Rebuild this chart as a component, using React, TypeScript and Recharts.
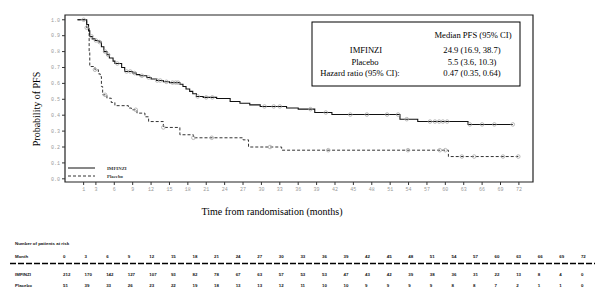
import React from 'react';
import {
  ComposedChart,
  Line,
  Scatter,
  XAxis,
  YAxis,
  ReferenceArea
} from 'recharts';

// Kaplan-Meier steps (month, probability)
const imfinziT = [0, 1.5, 1.8, 2.0, 2.4, 2.85, 3.5, 3.9, 4.3, 4.8, 5.2, 5.8, 6.1, 7.2, 7.7, 9.0, 9.6, 10.2, 11.3, 12.0, 12.9, 14.0, 15.0, 16.7, 17.2, 17.7, 18.3, 18.8, 19.4, 20.5, 22.7, 24.9, 26.5, 28.1, 29.8, 34.1, 36.0, 38.7, 41.5, 52.6, 55.5, 63.7, 71.0];
const imfinziS = [1.0, 0.97, 0.93, 0.895, 0.88, 0.87, 0.86, 0.83, 0.80, 0.78, 0.76, 0.74, 0.725, 0.70, 0.675, 0.665, 0.655, 0.648, 0.637, 0.628, 0.618, 0.61, 0.605, 0.595, 0.58, 0.565, 0.55, 0.535, 0.518, 0.512, 0.505, 0.486, 0.475, 0.465, 0.455, 0.445, 0.438, 0.417, 0.404, 0.375, 0.36, 0.342, 0.342];

const placeboT = [0, 1.5, 1.9, 2.0, 2.85, 3.4, 3.7, 3.9, 4.1, 4.8, 5.5, 6.1, 8.3, 8.8, 9.7, 11.0, 11.6, 14.0, 16.7, 18.9, 27.0, 27.9, 33.3, 60.5, 71.9];
const placeboS = [1.0, 0.95, 0.80, 0.706, 0.686, 0.66, 0.643, 0.58, 0.528, 0.507, 0.48, 0.46, 0.445, 0.434, 0.413, 0.39, 0.36, 0.323, 0.277, 0.258, 0.245, 0.20, 0.18, 0.14, 0.14];

// censoring marks (month)
const imfinziCensT = [1.0, 2.3, 3.0, 3.6, 4.5, 5.0, 6.5, 8.0, 8.6, 9.3, 10.5, 11.6, 13.0, 13.5, 14.5, 15.5, 16.0, 16.4, 19.6, 21.0, 22.0, 30.5, 32.0, 33.0, 38.0, 40.5, 44.5, 47.2, 50.5, 52.3, 53.7, 57.5, 58.3, 59.0, 59.6, 60.3, 64.0, 66.0, 68.0, 71.0];
const placeboCensT = [1.5, 2.85, 4.5, 9.5, 14.0, 18.9, 21.9, 31.4, 40.9, 53.9, 59.1, 60.0, 62.7, 64.7, 69.4, 71.9];

const xTicks = [1, 3, 6, 9, 12, 15, 18, 21, 24, 27, 30, 33, 36, 39, 42, 45, 48, 51, 54, 57, 60, 63, 66, 69, 72];
const yTicks = [0, 0.1, 0.2, 0.3, 0.4, 0.5, 0.6, 0.7, 0.8, 0.9, 1.0];

const riskMonths = [0, 3, 6, 9, 12, 15, 18, 21, 24, 27, 30, 33, 36, 39, 42, 45, 48, 51, 54, 57, 60, 63, 66, 69, 72];
const riskImfinzi = [212, 170, 142, 127, 107, 93, 82, 78, 67, 63, 57, 53, 53, 47, 43, 42, 39, 38, 36, 31, 22, 13, 8, 4, 0];
const riskPlacebo = [51, 39, 33, 26, 23, 22, 19, 18, 13, 13, 12, 11, 10, 10, 9, 9, 9, 9, 8, 8, 7, 2, 1, 1, 0];

const X_MIN = -2.04;
const X_MAX = 74.3;
const Y_MIN = -0.02;
const Y_MAX = 1.03;

const toSteps = (ts: number[], ss: number[]) => ts.map((t, i) => ({ t, s: ss[i] }));

// survival at time t on a step curve
const survAt = (ts: number[], ss: number[], t: number) => {
  let v = ss[0];
  for (let i = 0; i < ts.length; i++) {
    if (ts[i] <= t) v = ss[i];
  }
  return v;
};

const imfinziData = toSteps(imfinziT, imfinziS);
const placeboData = toSteps(placeboT, placeboS);
const imfinziCens = imfinziCensT.map((t) => ({ t, s: survAt(imfinziT, imfinziS, t) }));
const placeboCens = placeboCensT.map((t) => ({ t, s: survAt(placeboT, placeboS, t) }));

const CensorMark = (props: any) => (
  <circle cx={props.cx} cy={props.cy} r={1.8} fill="none" stroke="#aaa" strokeWidth={0.8} />
);

const tickStyle = { fontSize: 5, fill: '#999', fontFamily: 'Liberation Mono' };
const serif = 'Liberation Serif';

const App: React.FC = () => {
  const colX = (i: number) => 63 + i * 21.58;

  return (
    <div style={{ position: 'absolute', left: 0, top: 0, width: 595, height: 294, background: '#fff' }}>
      <ComposedChart
        width={595}
        height={294}
        margin={{ top: 15, right: 62, left: 35, bottom: 92 }}
      >
        <XAxis
          dataKey="t"
          type="number"
          domain={[X_MIN, X_MAX]}
          ticks={xTicks}
          interval={0}
          allowDataOverflow
          height={20}
          tickSize={3}
          tick={tickStyle}
          stroke="#333"
          axisLine={false}
        />
        <YAxis
          dataKey="s"
          type="number"
          domain={[Y_MIN, Y_MAX]}
          ticks={yTicks}
          interval={0}
          allowDataOverflow
          width={30}
          tickSize={3}
          tick={tickStyle}
          tickFormatter={(v: number) => v.toFixed(1)}
          stroke="#333"
          axisLine={false}
        />
        <ReferenceArea x1={X_MIN} x2={X_MAX} y1={Y_MIN} y2={Y_MAX} fill="none" stroke="#222" strokeWidth={1.2} />
        <Line
          data={placeboData}
          dataKey="s"
          type="stepAfter"
          stroke="#333"
          strokeWidth={1}
          strokeDasharray="3 2"
          dot={false}
          isAnimationActive={false}
        />
        <Line
          data={imfinziData}
          dataKey="s"
          type="stepAfter"
          stroke="#111"
          strokeWidth={1.1}
          dot={false}
          isAnimationActive={false}
        />
        <Scatter data={imfinziCens} dataKey="s" shape={<CensorMark />} isAnimationActive={false} />
        <Scatter data={placeboCens} dataKey="s" shape={<CensorMark />} isAnimationActive={false} />
      </ComposedChart>

      <svg width={595} height={294} style={{ position: 'absolute', left: 0, top: 0, pointerEvents: 'none' }}>
        {/* axis titles */}
        <text x={272} y={215} textAnchor="middle" fontFamily={serif} fontSize={10} fill="#000">
          Time from randomisation (months)
        </text>
        <text
          x={40}
          y={109}
          textAnchor="middle"
          fontFamily={serif}
          fontSize={10}
          fill="#000"
          transform="rotate(-90 40 109)"
        >
          Probability of PFS
        </text>

        {/* legend */}
        <line x1={68} y1={168} x2={95} y2={168} stroke="#111" strokeWidth={1} />
        <line x1={68} y1={176} x2={95} y2={176} stroke="#333" strokeWidth={1} strokeDasharray="3 2" />
        <text x={107} y={169.5} fontFamily={serif} fontSize={4.8} fontWeight="bold" fill="#333">IMFINZI</text>
        <text x={107} y={177.5} fontFamily={serif} fontSize={4.8} fontWeight="bold" fill="#333">Placebo</text>

        {/* median PFS box */}
        <rect x={312} y={22} width={208} height={64} fill="#fff" stroke="#000" strokeWidth={1} />
        <g fontFamily={serif} fontSize={8.6} fill="#000" textAnchor="middle">
          <text x={473} y={38}>Median PFS (95% CI)</text>
          <text x={366} y={53}>IMFINZI</text>
          <text x={472} y={53}>24.9 (16.9, 38.7)</text>
          <text x={365} y={64.5}>Placebo</text>
          <text x={472} y={64.5}>5.5 (3.6, 10.3)</text>
          <text x={360} y={76}>Hazard ratio (95% CI):</text>
          <text x={472} y={76}>0.47 (0.35, 0.64)</text>
        </g>

        {/* number at risk table */}
        <g fontFamily="Liberation Sans" fontSize={4.4} fontWeight="bold" fill="#111">
          <text x={15} y={245}>Number of patients at risk</text>
          <text x={15} y={258}>Month</text>
          <text x={15} y={275.5}>IMFINZI</text>
          <text x={15} y={287}>Placebo</text>
          {riskMonths.map((m, i) => (
            <text key={`m${m}`} x={colX(i)} y={258}>{m}</text>
          ))}
          {riskImfinzi.map((n, i) => (
            <text key={`i${i}`} x={colX(i)} y={275.5}>{n}</text>
          ))}
          {riskPlacebo.map((n, i) => (
            <text key={`p${i}`} x={colX(i)} y={287}>{n}</text>
          ))}
        </g>
        <line x1={10} y1={263.5} x2={595} y2={263.5} stroke="#000" strokeWidth={1.3} strokeDasharray="6 2" />
      </svg>
    </div>
  );
};

export default App;
